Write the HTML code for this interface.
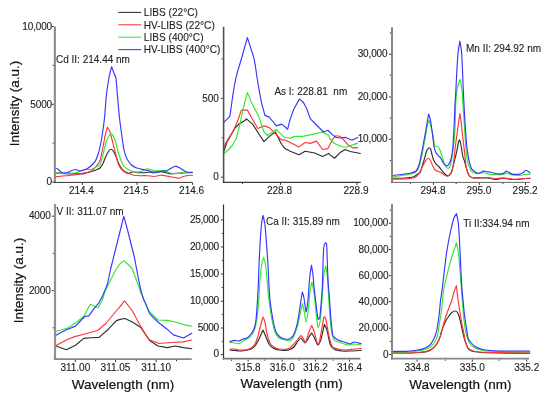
<!DOCTYPE html>
<html><head><meta charset="utf-8"><title>LIBS spectra</title>
<style>html,body{margin:0;padding:0;background:#fff;}body{width:550px;height:400px;overflow:hidden;}svg{display:block;filter:blur(0.3px);}text{font-family:"Liberation Sans",Arial,sans-serif;fill:#222;}.tl{font-size:10px;stroke:#222;stroke-width:0.12px;}.yl{letter-spacing:-0.15px;}.an{font-size:10px;stroke:#222;stroke-width:0.1px;}.lg{font-size:10.15px;stroke:#222;stroke-width:0.1px;}.at{font-size:13.5px;fill:#111;stroke:#111;stroke-width:0.2px;}</style></head><body>
<svg width="550" height="400" viewBox="0 0 550 400">
<rect width="550" height="400" fill="#fff"/>
<g fill="none" stroke-width="1.15" stroke-linejoin="round" stroke-linecap="round">
<path stroke="#2e2e2e" d="M55,172.8 C55.97,172.88 62.59,173.49 64.7,173.6 C66.81,173.71 74.15,173.90 76.1,173.9 C78.05,173.90 82.57,173.87 84.2,173.6 C85.83,173.33 91.12,171.61 92.4,171.2 C93.68,170.79 96.24,169.82 97,169.5 C97.76,169.18 99.40,168.60 100,168 C100.60,167.40 102.40,164.70 103,163.5 C103.60,162.30 105.40,157.28 106,156 C106.60,154.72 108.47,151.43 109,150.75 C109.53,150.07 110.80,149.18 111.25,149.25 C111.70,149.32 113.05,150.82 113.5,151.5 C113.95,152.18 115.30,154.95 115.75,156 C116.20,157.05 117.55,160.95 118,162 C118.45,163.05 119.65,165.60 120.25,166.5 C120.85,167.40 123.17,170.32 124,171 C124.83,171.68 127.60,173.18 128.5,173.25 C129.40,173.32 132.08,171.81 133,171.75 C133.92,171.69 136.68,172.60 137.7,172.7 C138.72,172.79 142.11,172.74 143.2,172.7 C144.29,172.66 147.51,172.37 148.6,172.3 C149.69,172.23 152.87,172.07 154.1,172 C155.33,171.93 159.67,171.53 160.9,171.6 C162.13,171.67 165.44,172.48 166.4,172.7 C167.36,172.92 169.41,173.73 170.5,173.8 C171.59,173.87 175.94,173.51 177.3,173.4 C178.66,173.29 182.60,172.79 184.1,172.7 C185.60,172.61 191.48,172.52 192.3,172.5"/>
<path stroke="#ff3535" d="M55,176.8 C56.62,176.64 68.60,175.52 71.2,175.2 C73.80,174.88 79.05,174.00 81,173.6 C82.95,173.20 89.24,171.85 90.7,171.2 C92.16,170.55 94.67,168.17 95.6,167.1 C96.53,166.03 99.26,162.51 100,160.5 C100.74,158.49 102.47,149.55 103,147 C103.53,144.45 104.80,136.98 105.25,135 C105.70,133.02 107.50,127.20 107.5,127.2 C107.50,127.20 109.30,130.02 109.75,131.25 C110.20,132.48 111.55,137.78 112,139.5 C112.45,141.22 113.80,146.70 114.25,148.5 C114.70,150.30 116.05,155.85 116.5,157.5 C116.95,159.15 118.22,163.80 118.75,165 C119.28,166.20 121.08,168.75 121.75,169.5 C122.42,170.25 124.67,172.05 125.5,172.5 C126.33,172.95 129.19,173.73 130,174 C130.81,174.27 132.55,175.03 133.6,175.2 C134.65,175.37 139.13,175.65 140.5,175.7 C141.87,175.75 145.94,175.62 147.3,175.7 C148.66,175.78 152.74,176.55 154.1,176.5 C155.46,176.45 159.81,175.28 160.9,175.2 C161.99,175.12 164.04,175.54 165,175.7 C165.96,175.86 169.55,176.62 170.5,176.8 C171.45,176.98 173.69,177.36 174.5,177.5 C175.31,177.64 177.78,178.27 178.6,178.2 C179.42,178.13 181.88,177.05 182.7,176.8 C183.52,176.55 185.84,175.86 186.8,175.7 C187.76,175.54 191.75,175.25 192.3,175.2"/>
<path stroke="#30e830" d="M55,172.8 C55.81,172.85 60.99,173.30 63.1,173.3 C65.21,173.30 73.99,173.18 76.1,172.8 C78.21,172.42 82.74,169.83 84.2,169.5 C85.66,169.17 89.56,169.74 90.7,169.5 C91.84,169.26 94.67,167.55 95.6,167.1 C96.53,166.65 99.26,166.26 100,165 C100.74,163.74 102.40,156.75 103,154.5 C103.60,152.25 105.40,144.38 106,142.5 C106.60,140.62 108.47,136.62 109,135.75 C109.53,134.88 110.80,133.73 111.25,133.8 C111.70,133.88 113.05,135.63 113.5,136.5 C113.95,137.37 115.30,141.00 115.75,142.5 C116.20,144.00 117.47,149.70 118,151.5 C118.53,153.30 120.40,159.00 121,160.5 C121.60,162.00 123.25,165.60 124,166.5 C124.75,167.40 127.60,168.97 128.5,169.5 C129.40,170.03 132.08,171.50 133,171.75 C133.92,172.00 136.68,172.10 137.7,172 C138.72,171.90 142.24,171.01 143.2,170.7 C144.16,170.39 146.21,168.90 147.3,168.9 C148.39,168.90 152.74,170.52 154.1,170.7 C155.46,170.88 159.95,170.74 160.9,170.7 C161.85,170.66 162.92,170.17 163.6,170.3 C164.28,170.43 166.88,171.69 167.7,172 C168.52,172.31 170.84,173.26 171.8,173.4 C172.76,173.54 176.07,173.47 177.3,173.4 C178.53,173.33 182.60,172.77 184.1,172.7 C185.60,172.63 191.48,172.70 192.3,172.7"/>
<path stroke="#3535ff" d="M55,167.9 C55.24,167.98 56.67,168.21 57.4,168.7 C58.13,169.19 61.24,172.44 62.3,172.8 C63.36,173.16 67.11,172.51 68,172.3 C68.89,172.09 70.39,170.98 71.2,170.7 C72.01,170.42 75.37,169.49 76.1,169.5 C76.83,169.51 77.77,170.72 78.5,170.8 C79.23,170.88 82.50,170.54 83.4,170.3 C84.30,170.06 86.69,168.88 87.5,168.4 C88.31,167.92 90.69,166.28 91.5,165.5 C92.31,164.72 94.90,161.85 95.6,160.6 C96.30,159.35 98.06,154.36 98.5,153 C98.94,151.64 99.62,148.80 100,147 C100.38,145.20 101.80,137.90 102.25,135 C102.70,132.10 104.08,122.00 104.5,118 C104.92,114.00 105.95,99.05 106.4,95 C106.85,90.95 108.48,80.33 109,77.5 C109.52,74.67 111.60,66.70 111.6,66.7 C111.60,66.70 113.86,72.83 114.3,74 C114.74,75.17 115.69,76.30 116,78.4 C116.31,80.50 117.05,91.04 117.4,95 C117.75,98.96 119.06,114.00 119.5,118 C119.94,122.00 121.30,131.80 121.75,135 C122.20,138.20 123.47,147.60 124,150 C124.53,152.40 126.25,157.50 127,159 C127.75,160.50 130.60,164.13 131.5,165 C132.40,165.87 135.15,167.32 136,167.7 C136.85,168.07 139.15,168.52 140,168.75 C140.85,168.98 143.64,169.81 144.5,170 C145.36,170.19 147.71,170.40 148.6,170.7 C149.49,171.00 152.17,172.93 153.4,173 C154.63,173.07 159.60,171.63 160.9,171.4 C162.20,171.17 165.44,170.98 166.4,170.7 C167.36,170.42 169.62,169.05 170.5,168.6 C171.38,168.15 174.25,166.26 175.2,166.2 C176.15,166.14 179.11,167.55 180,168 C180.89,168.45 183.28,170.27 184.1,170.7 C184.92,171.13 187.38,172.14 188.2,172.3 C189.02,172.46 191.89,172.30 192.3,172.3"/>
</g>
<g fill="none" stroke-width="1.15" stroke-linejoin="round" stroke-linecap="round">
<polyline stroke="#2e2e2e" points="224,151 227,142 231,135 235,128 239,124 245,120.5 246.5,118.9 252.6,124.1 258.75,133.75 264,141.6 269.25,136.4 275.4,132 281.5,144.25 285,148.6 290.25,151.25 299,154.75 305.1,151.25 314.75,153 322.6,156.5 328.75,153.4 330,154.9 334.5,158.25 340.1,152.6 345.2,149.5 350.25,151.5 360.4,153.5"/>
<polyline stroke="#ff3535" points="224,146.5 228,139 232,133 235,127 238,120 241.3,110.1 247.4,110.1 251.75,118 257.9,128.5 264,125.9 269.3,127.6 274.5,132.9 281.5,139.9 285,139.9 290.25,142.5 299,146.9 305.1,142.5 310.4,143.4 316.5,141.1 322.6,149.5 327.9,148.6 330.5,143.4 332.25,139.7 335.6,135.75 340.1,136.3 343.5,139.7 348,144.75 352.5,147.9 357.6,147.6"/>
<polyline stroke="#30e830" points="224,153.5 228,150 232,146 236,139 238.5,130 240,124 242,114 244.5,103 247.4,92.6 251.75,103.1 258.75,116.3 264,132 267.5,135.5 276.25,129.4 283.25,136.4 285,137.25 290.25,138.1 294.6,136.4 302.5,136.4 311.25,134.6 322.6,132 328.75,135.5 330,139 334.5,143.5 341.25,146.5 345.75,147.3 350.25,145.9 357.6,143.1"/>
<polyline stroke="#3535ff" points="223.75,122.4 229.9,116.3 231.6,104 232.85,95 234.25,86.25 236,77.5 237.75,70.85 239.5,65.25 242.1,56.5 244.75,46.9 247.4,37.6 253.5,56.5 255.3,65.3 257,77.5 259.1,89.8 261.4,102.3 264.9,115.4 269.3,117.1 272.8,121.5 276.3,125.9 281.5,124.1 285,126.75 287.6,129.4 290.25,118.9 293.75,109.25 299.35,99.1 303.4,102.25 306.9,109.25 310.4,118.9 316.5,125 323.5,132 327.9,130.25 332.25,134.6 335.75,137.25 340.1,138 345.75,137.4 352,140.25 357.6,137.4"/>
</g>
<g fill="none" stroke-width="1.15" stroke-linejoin="round" stroke-linecap="round">
<path stroke="#2e2e2e" d="M392,178.3 C393.73,178.26 402.20,178.17 405,178 C407.80,177.83 411.40,177.47 413,177 C414.60,176.53 416.07,175.09 417,174.5 C417.93,173.91 419.13,174.27 420,172.6 C420.87,170.93 422.63,164.81 423.5,162 C424.37,159.19 425.79,153.37 426.5,151.5 C427.21,149.63 428.25,148.32 428.8,148 C429.35,147.68 430.20,148.33 430.6,149.1 C431.00,149.87 431.41,152.39 431.8,153.8 C432.19,155.21 432.95,158.37 433.5,159.7 C434.05,161.03 435.19,162.89 435.9,163.8 C436.61,164.71 438.09,165.71 438.8,166.5 C439.51,167.29 440.49,168.81 441.2,169.7 C441.91,170.59 443.31,172.41 444.1,173.2 C444.89,173.99 446.39,175.36 447.1,175.6 C447.81,175.84 448.77,175.55 449.4,175 C450.03,174.45 451.17,173.23 451.8,171.5 C452.43,169.77 453.47,164.52 454.1,162 C454.73,159.48 455.94,155.13 456.5,152.6 C457.06,150.07 457.91,144.69 458.3,143 C458.69,141.31 459.40,139.90 459.4,139.9 C459.40,139.90 460.13,140.79 460.6,143 C461.07,145.21 462.38,154.10 462.9,156.5 C463.42,158.90 464.03,159.44 464.5,161 C464.97,162.56 465.79,166.27 466.4,168.2 C467.01,170.13 468.26,174.23 469.1,175.5 C469.94,176.77 471.55,177.38 472.7,177.7 C473.85,178.02 475.67,177.87 477.7,177.9 C479.73,177.93 485.53,177.69 487.9,177.9 C490.27,178.11 493.46,179.46 495.5,179.5 C497.54,179.54 500.81,178.20 503.2,178.2 C505.59,178.20 510.69,179.42 513.4,179.5 C516.11,179.58 521.30,178.97 523.5,178.8 C525.70,178.63 529.05,178.28 529.9,178.2"/>
<path stroke="#ff3535" d="M392,179.1 C393.73,179.09 402.20,179.15 405,179 C407.80,178.85 411.40,178.40 413,178 C414.60,177.60 416.07,176.87 417,176 C417.93,175.13 419.13,173.05 420,171.5 C420.87,169.95 422.71,165.89 423.5,164.4 C424.29,162.91 425.27,161.11 425.9,160.3 C426.53,159.49 427.65,158.38 428.2,158.3 C428.75,158.22 429.45,158.81 430,159.7 C430.55,160.59 431.72,163.67 432.35,165 C432.98,166.33 434.08,168.91 434.7,169.7 C435.32,170.49 436.29,170.58 437,170.9 C437.71,171.22 439.21,171.71 440,172.1 C440.79,172.49 442.19,173.33 442.9,173.8 C443.61,174.27 444.67,175.28 445.3,175.6 C445.93,175.92 446.97,176.36 447.6,176.2 C448.23,176.04 449.37,175.35 450,174.4 C450.63,173.45 451.80,171.22 452.35,169.1 C452.90,166.98 453.71,161.47 454.1,158.5 C454.49,155.53 454.95,149.80 455.3,146.8 C455.65,143.80 456.32,139.17 456.75,136 C457.18,132.83 458.08,125.99 458.5,123 C458.92,120.01 459.90,113.60 459.9,113.6 C459.90,113.60 460.98,120.41 461.3,123 C461.62,125.59 462.02,130.40 462.3,133 C462.58,135.60 463.11,139.97 463.4,142.5 C463.69,145.03 464.10,148.57 464.5,152 C464.90,155.43 465.79,165.07 466.4,168.2 C467.01,171.33 468.26,174.23 469.1,175.5 C469.94,176.77 471.55,177.38 472.7,177.7 C473.85,178.02 475.67,177.93 477.7,177.9 C479.73,177.87 485.69,177.38 487.9,177.5 C490.11,177.62 492.26,178.75 494.3,178.8 C496.34,178.85 500.65,177.85 503.2,177.9 C505.75,177.95 510.85,179.08 513.4,179.2 C515.95,179.32 520.43,178.93 522.3,178.8 C524.17,178.67 526.39,178.20 527.4,178.2 C528.41,178.20 529.57,178.72 529.9,178.8"/>
<path stroke="#30e830" d="M392,177 C393.73,176.73 402.47,175.40 405,175 C407.53,174.60 409.53,174.40 411,174 C412.47,173.60 414.93,172.93 416,172 C417.07,171.07 418.20,169.27 419,167 C419.80,164.73 421.20,158.73 422,155 C422.80,151.27 424.28,143.00 425,139 C425.72,135.00 426.87,127.53 427.4,125 C427.93,122.47 429.00,120.00 429,120 C429.00,120.00 430.48,125.00 431,127 C431.52,129.00 432.41,132.52 432.9,135 C433.39,137.48 433.99,144.03 434.7,145.6 C435.41,147.17 437.41,146.01 438.2,146.8 C438.99,147.59 440.05,150.09 440.6,151.5 C441.15,152.91 441.80,155.63 442.35,157.35 C442.90,159.07 444.07,162.98 444.7,164.4 C445.33,165.82 446.47,167.61 447.1,168 C447.73,168.39 448.85,168.15 449.4,167.35 C449.95,166.55 450.65,164.74 451.2,162 C451.75,159.26 453.03,150.40 453.5,146.8 C453.97,143.20 454.46,138.57 454.7,135 C454.94,131.43 455.17,124.00 455.3,120 C455.43,116.00 455.51,108.73 455.7,105 C455.89,101.27 456.43,94.67 456.75,92 C457.07,89.33 457.64,86.65 458.1,85 C458.56,83.35 460.20,79.60 460.2,79.6 C460.20,79.60 461.83,88.28 462.15,91 C462.47,93.72 462.39,96.63 462.6,100 C462.81,103.37 463.36,110.58 463.75,116.25 C464.14,121.92 465.13,137.33 465.5,142.5 C465.87,147.67 466.14,152.19 466.5,155 C466.86,157.81 467.55,161.41 468.2,163.6 C468.85,165.79 470.31,170.07 471.4,171.4 C472.49,172.73 474.77,173.43 476.4,173.6 C478.03,173.77 481.79,172.59 483.6,172.7 C485.41,172.81 488.24,174.15 490,174.4 C491.76,174.65 495.04,174.60 496.8,174.6 C498.56,174.60 501.84,174.60 503.2,174.4 C504.56,174.20 505.81,173.02 507,173.1 C508.19,173.18 510.41,174.69 512.1,175 C513.79,175.31 517.83,175.48 519.7,175.4 C521.57,175.32 524.74,174.53 526.1,174.4 C527.46,174.27 529.39,174.40 529.9,174.4"/>
<path stroke="#3535ff" d="M392,175.5 C393.73,175.30 402.47,174.33 405,174 C407.53,173.67 409.53,173.40 411,173 C412.47,172.60 414.93,172.07 416,171 C417.07,169.93 418.20,167.67 419,165 C419.80,162.33 421.20,155.00 422,151 C422.80,147.00 424.28,139.00 425,135 C425.72,131.00 426.92,123.80 427.4,121 C427.88,118.20 428.60,114.00 428.6,114 C428.60,114.00 430.10,118.47 430.6,121 C431.10,123.53 431.88,129.56 432.35,133 C432.82,136.44 433.63,144.19 434.1,146.8 C434.57,149.41 435.35,151.43 435.9,152.6 C436.45,153.77 437.57,154.89 438.2,155.6 C438.83,156.31 439.89,156.89 440.6,157.9 C441.31,158.91 442.71,162.15 443.5,163.2 C444.29,164.25 445.79,165.64 446.5,165.8 C447.21,165.96 448.17,165.37 448.8,164.4 C449.43,163.43 450.65,160.85 451.2,158.5 C451.75,156.15 452.51,151.27 452.9,146.8 C453.29,142.33 453.82,130.57 454.1,125 C454.38,119.43 454.76,109.67 455,105 C455.24,100.33 455.65,94.67 455.9,90 C456.15,85.33 456.61,75.00 456.9,70 C457.19,65.00 457.70,56.35 458.1,52.5 C458.50,48.65 459.90,41.10 459.9,41.1 C459.90,41.10 461.25,48.65 461.6,52.5 C461.95,56.35 462.29,65.27 462.5,70 C462.71,74.73 462.92,81.83 463.2,88 C463.48,94.17 464.17,108.98 464.6,116.25 C465.03,123.52 466.00,137.73 466.4,142.5 C466.80,147.27 467.24,149.55 467.6,152 C467.96,154.45 468.54,158.62 469.1,160.9 C469.66,163.18 470.83,167.53 471.8,169.1 C472.77,170.67 475.43,172.15 476.4,172.7 C477.37,173.25 478.14,173.41 479.1,173.2 C480.06,172.99 482.51,171.29 483.6,171.1 C484.69,170.91 486.45,171.68 487.3,171.8 C488.15,171.92 489.07,171.80 490,172 C490.93,172.20 493.05,173.02 494.3,173.3 C495.55,173.58 498.21,174.10 499.4,174.1 C500.59,174.10 502.19,173.69 503.2,173.3 C504.21,172.91 505.81,171.09 507,171.2 C508.19,171.31 510.41,173.71 512.1,174.1 C513.79,174.49 518.18,174.31 519.7,174.1 C521.22,173.89 522.65,173.01 523.5,172.5 C524.35,171.99 525.25,170.26 526.1,170.3 C526.95,170.34 529.39,172.47 529.9,172.8"/>
</g>
<g fill="none" stroke-width="1.15" stroke-linejoin="round" stroke-linecap="round">
<polyline stroke="#2e2e2e" points="56,346 66.3,349.7 75.5,345.2 83.7,338.4 90.9,337.8 99.1,337.4 108.3,329.2 116.5,320.6 120,319.4 125.1,318.5 132.3,322 140.5,327.15 149.7,340.5 157.9,346 167.15,347.65 175.35,346 183.55,347.65 191.75,348.7"/>
<polyline stroke="#ff3535" points="56,345.6 67.3,339.45 75.5,336.4 85.75,333.7 98,330.2 106.25,323 116.5,310.75 120,306.65 124.5,300.9 132.3,310.75 140.5,326.1 148.7,339.45 159,343.55 171.25,342.5 183.55,341.9 191.75,340"/>
<polyline stroke="#30e830" points="56,331.25 67.3,328.2 75.5,323 83.7,316.5 90.3,304.2 98,307.7 102.2,300.5 105.1,291 108.5,284.25 111.9,277.5 115.25,270.75 119.75,264 123.8,260.6 127.6,264 132.1,268.5 135.5,277.5 138.9,286.5 140.5,292.3 142.25,295.5 144,300 148.7,310.75 157.9,320 167.15,320.4 175.35,322 185.6,325.1 191.75,326.1"/>
<polyline stroke="#3535ff" points="56,335.35 65.25,330.2 75.5,326.1 84.7,316.5 88.8,315.9 94,308.7 99.1,302.55 102.5,296 105.1,290 107.4,284.25 110.75,268.5 115.25,250.5 119.75,232.5 123.8,216.3 127.6,230.25 131,243.75 134.4,257.25 137.75,275.25 140,286.5 141.5,292.3 143.4,299 145.6,303.6 149.7,313.8 157.9,322 167.15,329.2 173.3,334.9 183.55,338 191.75,333.3"/>
</g>
<g fill="none" stroke-width="1.15" stroke-linejoin="round" stroke-linecap="round">
<path stroke="#2e2e2e" d="M230,350 C230.50,350.04 234.10,350.30 235,350.4 C235.90,350.50 238.00,351.00 239,351 C240.00,351.00 243.80,350.60 245,350.4 C246.20,350.20 250.00,349.44 251,349 C252.00,348.56 254.20,347.00 255,346 C255.80,345.00 258.20,340.60 259,339 C259.80,337.40 263.00,330.00 263,330 C263.00,330.00 265.40,335.60 266,337 C266.60,338.40 268.30,342.90 269,344 C269.70,345.10 272.00,347.40 273,348 C274.00,348.60 277.80,349.76 279,350 C280.20,350.24 283.90,350.45 285,350.4 C286.10,350.35 289.10,349.84 290,349.5 C290.90,349.16 293.20,347.85 294,347 C294.80,346.15 297.30,341.90 298,341 C298.70,340.10 300.30,337.80 301,338 C301.70,338.20 304.20,343.10 305,343 C305.80,342.90 308.34,338.00 309,337 C309.66,336.00 311.60,333.00 311.6,333 C311.60,333.00 313.36,335.80 314,337 C314.64,338.20 317.30,344.80 318,345 C318.70,345.20 320.36,341.06 321,339 C321.64,336.94 324.40,324.40 324.4,324.4 C324.40,324.40 326.44,328.04 327,330 C327.56,331.96 329.30,342.10 330,344 C330.70,345.90 332.80,348.30 334,349 C335.20,349.70 340.40,350.80 342,351 C343.60,351.20 348.10,351.06 350,351 C351.90,350.94 359.90,350.46 361,350.4"/>
<path stroke="#ff3535" d="M230,349 C230.50,349.00 234.10,348.90 235,349 C235.90,349.10 238.00,349.90 239,350 C240.00,350.10 243.80,350.20 245,350 C246.20,349.80 250.00,348.60 251,348 C252.00,347.40 254.30,345.20 255,344 C255.70,342.80 257.40,338.00 258,336 C258.60,334.00 260.50,325.90 261,324 C261.50,322.10 263.00,317.00 263,317 C263.00,317.00 264.60,320.30 265,322 C265.40,323.70 266.50,331.90 267,334 C267.50,336.10 269.30,341.70 270,343 C270.70,344.30 273.10,346.40 274,347 C274.90,347.60 277.90,348.76 279,349 C280.10,349.24 283.90,349.50 285,349.4 C286.10,349.30 289.10,348.54 290,348 C290.90,347.46 293.20,344.90 294,344 C294.80,343.10 297.30,339.84 298,339 C298.70,338.16 300.50,335.70 301,335.6 C301.50,335.50 302.54,337.36 303,338 C303.46,338.64 305.00,342.60 305.6,342 C306.20,341.40 308.40,333.64 309,332 C309.60,330.36 311.60,325.60 311.6,325.6 C311.60,325.60 313.46,329.36 314,331 C314.54,332.64 316.50,340.74 317,342 C317.50,343.26 318.54,344.80 319,343.6 C319.46,342.40 321.10,332.66 321.6,330 C322.10,327.34 323.56,318.00 324,317 C324.44,316.00 325.50,318.10 326,320 C326.50,321.90 328.40,333.40 329,336 C329.60,338.60 331.10,344.70 332,346 C332.90,347.30 336.60,348.60 338,349 C339.40,349.40 344.40,350.00 346,350 C347.60,350.00 352.50,349.16 354,349 C355.50,348.84 360.30,348.46 361,348.4"/>
<path stroke="#30e830" d="M230,342.4 C230.50,342.46 234.10,342.88 235,343 C235.90,343.12 238.20,343.80 239,343.6 C239.80,343.40 242.20,341.46 243,341 C243.80,340.54 246.20,339.50 247,339 C247.80,338.50 250.20,337.10 251,336 C251.80,334.90 254.40,329.80 255,328 C255.60,326.20 256.62,320.80 257,318 C257.38,315.20 258.54,303.30 258.8,300 C259.06,296.70 259.32,288.50 259.6,285 C259.88,281.50 261.20,267.76 261.6,265 C262.00,262.24 263.60,257.40 263.6,257.4 C263.60,257.40 265.23,262.44 265.6,265 C265.97,267.56 266.96,279.50 267.3,283 C267.64,286.50 268.53,296.30 269,300 C269.47,303.70 271.40,316.80 272,320 C272.60,323.20 274.30,330.20 275,332 C275.70,333.80 278.00,337.20 279,338 C280.00,338.80 283.85,339.72 285,340 C286.15,340.28 289.60,341.20 290.5,340.8 C291.40,340.40 293.25,337.68 294,336 C294.75,334.32 297.30,326.60 298,324 C298.70,321.40 300.56,312.04 301,310 C301.44,307.96 302.40,303.60 302.4,303.6 C302.40,303.60 304.04,310.16 304.4,312 C304.76,313.84 305.64,322.00 306,322 C306.36,322.00 307.60,315.00 308,312 C308.40,309.00 309.62,295.00 310,292 C310.38,289.00 311.80,282.00 311.8,282 C311.80,282.00 313.58,289.00 314,292 C314.42,295.00 315.60,308.50 316,312 C316.40,315.50 317.60,326.00 318,327 C318.40,328.00 319.60,324.70 320,322 C320.40,319.30 321.70,303.70 322,300 C322.30,296.30 322.80,287.70 323,285 C323.20,282.30 323.73,274.88 324,273 C324.27,271.12 325.75,266.25 325.75,266.25 C325.75,266.25 326.77,271.12 327,273 C327.23,274.88 327.80,281.90 328,285 C328.20,288.10 328.70,299.70 329,304 C329.30,308.30 330.50,324.40 331,328 C331.50,331.60 333.10,338.56 334,340 C334.90,341.44 338.60,341.90 340,342.4 C341.40,342.90 346.60,344.84 348,345 C349.40,345.16 352.70,344.00 354,344 C355.30,344.00 360.30,344.90 361,345"/>
<path stroke="#3535ff" d="M230,341.6 C230.50,341.48 234.10,340.46 235,340.4 C235.90,340.34 238.20,341.14 239,341 C239.80,340.86 242.20,339.30 243,339 C243.80,338.70 246.20,338.50 247,338 C247.80,337.50 250.30,334.90 251,334 C251.70,333.10 253.50,330.40 254,329 C254.50,327.60 255.65,322.90 256,320 C256.35,317.10 257.27,303.50 257.5,300 C257.73,296.50 258.15,288.50 258.3,285 C258.45,281.50 258.83,269.00 259,265 C259.17,261.00 259.76,249.00 260,245 C260.24,241.00 261.10,227.96 261.4,225 C261.70,222.04 263.00,215.40 263,215.4 C263.00,215.40 264.64,222.04 265,225 C265.36,227.96 266.30,241.00 266.6,245 C266.90,249.00 267.78,261.30 268,265 C268.22,268.70 268.60,278.50 268.8,282 C269.00,285.50 269.58,296.20 270,300 C270.42,303.80 272.40,316.80 273,320 C273.60,323.20 275.30,330.30 276,332 C276.70,333.70 279.10,336.30 280,337 C280.90,337.70 284.00,338.82 285,339 C286.00,339.18 289.10,339.30 290,338.8 C290.90,338.30 293.20,335.88 294,334 C294.80,332.12 297.30,323.40 298,320 C298.70,316.60 300.56,302.80 301,300 C301.44,297.20 302.40,292.00 302.4,292 C302.40,292.00 303.64,296.00 304,298 C304.36,300.00 305.60,311.80 306,312 C306.40,312.20 307.70,302.60 308,300 C308.30,297.40 308.80,288.50 309,286 C309.20,283.50 309.75,277.08 310,275 C310.25,272.92 311.50,265.20 311.5,265.2 C311.50,265.20 312.75,272.82 313,275 C313.25,277.18 313.70,284.10 314,287 C314.30,289.90 315.60,300.80 316,304 C316.40,307.20 317.60,317.80 318,319 C318.40,320.20 319.60,318.70 320,316 C320.40,313.30 321.76,295.10 322,292 C322.24,288.90 322.30,287.70 322.4,285 C322.50,282.30 322.88,268.60 323,265 C323.12,261.40 323.40,251.20 323.6,249 C323.80,246.80 324.71,243.53 325,243 C325.29,242.47 326.31,243.15 326.5,243.75 C326.69,244.35 326.81,246.88 326.9,249 C326.99,251.12 327.27,261.60 327.4,265 C327.53,268.40 327.98,279.50 328.2,283 C328.42,286.50 329.32,296.30 329.6,300 C329.88,303.70 330.66,316.40 331,320 C331.34,323.60 332.30,334.00 333,336 C333.70,338.00 336.90,339.40 338,340 C339.10,340.60 342.80,341.60 344,342 C345.20,342.40 349.00,344.00 350,344 C351.00,344.00 352.90,342.04 354,342 C355.10,341.96 360.30,343.44 361,343.6"/>
</g>
<g fill="none" stroke-width="1.15" stroke-linejoin="round" stroke-linecap="round">
<path stroke="#2e2e2e" d="M392,352.7 C394.43,352.74 406.56,353.03 410.2,353 C413.84,352.97 417.13,352.69 419.3,352.5 C421.47,352.31 424.93,351.97 426.5,351.6 C428.07,351.23 430.01,350.37 431.1,349.7 C432.19,349.03 433.85,347.51 434.7,346.6 C435.55,345.69 436.77,344.23 437.5,342.9 C438.23,341.57 439.67,338.12 440.2,336.6 C440.73,335.08 440.86,333.38 441.5,331.5 C442.14,329.62 444.03,324.53 445,322.5 C445.97,320.47 447.83,317.58 448.75,316.25 C449.67,314.92 451.07,313.20 451.9,312.5 C452.73,311.80 454.25,311.00 455,311 C455.75,311.00 456.91,311.63 457.5,312.5 C458.09,313.37 458.90,315.83 459.4,317.5 C459.90,319.17 460.76,322.83 461.25,325 C461.74,327.17 462.63,331.75 463.1,333.75 C463.57,335.75 464.30,338.50 464.75,340 C465.20,341.50 465.93,343.73 466.5,345 C467.07,346.27 467.87,348.60 469,349.5 C470.13,350.40 472.20,351.31 475,351.75 C477.80,352.19 482.70,352.60 490,352.8 C497.30,353.00 524.45,353.19 529.75,353.25"/>
<path stroke="#ff3535" d="M392,353.2 C394.43,353.16 406.56,353.02 410.2,352.9 C413.84,352.78 417.13,352.50 419.3,352.3 C421.47,352.10 424.93,351.77 426.5,351.4 C428.07,351.03 430.01,350.17 431.1,349.5 C432.19,348.83 433.85,347.31 434.7,346.4 C435.55,345.49 436.77,344.03 437.5,342.7 C438.23,341.37 439.67,337.85 440.2,336.4 C440.73,334.95 440.94,333.82 441.5,331.8 C442.06,329.78 443.52,324.16 444.4,321.25 C445.28,318.34 447.10,312.83 448.1,310 C449.10,307.17 451.11,302.40 451.9,300 C452.69,297.60 453.40,293.92 454,292 C454.60,290.08 456.40,285.60 456.4,285.6 C456.40,285.60 457.62,296.41 458.1,300 C458.58,303.59 459.49,309.33 460,312.5 C460.51,315.67 461.40,321.08 461.9,323.75 C462.40,326.42 463.34,330.33 463.75,332.5 C464.16,334.67 464.43,337.93 465,340 C465.57,342.07 466.87,346.53 468,348 C469.13,349.47 471.57,350.44 473.5,351 C475.43,351.56 475.00,351.96 482.5,352.2 C490.00,352.44 523.45,352.72 529.75,352.8"/>
<path stroke="#30e830" d="M392,351.8 C394.43,351.80 406.56,351.95 410.2,351.8 C413.84,351.65 417.25,351.06 419.3,350.7 C421.35,350.34 424.03,349.67 425.6,349.1 C427.17,348.53 429.89,347.32 431.1,346.4 C432.31,345.48 433.85,343.65 434.7,342.2 C435.55,340.75 436.87,337.96 437.5,335.5 C438.13,333.04 438.90,326.82 439.4,323.75 C439.90,320.68 440.82,315.67 441.25,312.5 C441.68,309.33 442.29,303.00 442.6,300 C442.91,297.00 443.16,292.76 443.6,290 C444.04,287.24 445.14,282.53 445.9,279.3 C446.66,276.07 448.41,269.11 449.3,265.8 C450.19,262.49 451.64,257.57 452.6,254.5 C453.56,251.43 456.50,242.80 456.5,242.8 C456.50,242.80 458.19,250.21 458.7,254.5 C459.21,258.79 459.93,270.27 460.3,275 C460.67,279.73 461.24,286.67 461.5,290 C461.76,293.33 461.95,296.27 462.25,300 C462.55,303.73 463.25,313.60 463.75,318 C464.25,322.40 465.20,329.60 466,333 C466.80,336.40 468.55,341.50 469.75,343.5 C470.95,345.50 473.30,347.07 475,348 C476.70,348.93 480.50,350.06 482.5,350.5 C484.50,350.94 483.70,351.13 490,351.3 C496.30,351.47 524.45,351.69 529.75,351.75"/>
<path stroke="#3535ff" d="M392,351.4 C393.81,351.40 402.57,351.52 405.6,351.4 C408.63,351.28 412.51,350.81 414.7,350.5 C416.89,350.19 420.29,349.59 422,349.1 C423.71,348.61 426.29,347.53 427.5,346.8 C428.71,346.07 430.26,344.63 431.1,343.6 C431.94,342.57 433.20,340.31 433.8,339.1 C434.40,337.89 435.17,335.85 435.6,334.5 C436.03,333.15 436.67,330.60 437,329 C437.33,327.40 437.78,324.70 438.1,322.5 C438.42,320.30 439.07,315.50 439.4,312.5 C439.73,309.50 440.21,303.27 440.6,300 C440.99,296.73 441.77,292.20 442.3,288 C442.83,283.80 443.97,273.57 444.6,268.5 C445.23,263.43 446.23,254.87 447,250 C447.77,245.13 449.49,236.20 450.4,232 C451.31,227.80 452.99,220.95 453.8,218.5 C454.61,216.05 456.50,213.60 456.5,213.6 C456.50,213.60 457.91,219.64 458.3,223 C458.69,226.36 459.11,233.69 459.4,238.8 C459.69,243.91 460.21,255.30 460.5,261.3 C460.79,267.30 461.27,278.64 461.6,283.8 C461.93,288.96 462.61,295.84 463,300 C463.39,304.16 464.00,311.00 464.5,315 C465.00,319.00 466.28,326.93 466.75,330 C467.22,333.07 467.50,336.40 468,338 C468.50,339.60 469.57,340.87 470.5,342 C471.43,343.13 473.40,345.50 475,346.5 C476.60,347.50 480.50,348.97 482.5,349.5 C484.50,350.03 487.00,350.30 490,350.5 C493.00,350.70 499.70,350.93 505,351 C510.30,351.07 526.45,351.00 529.75,351"/>
</g>
<path fill="none" stroke="#8a8a8a" stroke-width="2.1" d="M54.85,26.5 V182.9"/>
<path fill="none" stroke="#333" stroke-width="1.0" d="M53.8,182.4 H192.6"/>
<path fill="none" stroke="#333" stroke-width="1" d="M53.8,182h-2M53.8,104.3h-2M53.8,26.5h-2M53.8,143.1h-1.2M53.8,65.4h-1.2M82.4,182.9v2M137,182.9v2M192.6,182.9v2"/>
<text class="tl yl" x="52" y="185.20" text-anchor="end">0</text>
<text class="tl yl" x="52" y="107.50" text-anchor="end">5000</text>
<text class="tl yl" x="52" y="29.70" text-anchor="end">10,000</text>
<text class="tl" x="81.4" y="194.4" text-anchor="middle">214.4</text>
<text class="tl" x="136" y="194.4" text-anchor="middle">214.5</text>
<text class="tl" x="191.6" y="194.4" text-anchor="middle">214.6</text>
<path fill="none" stroke="#505050" stroke-width="1.6" d="M223.6,26.75 V182.9"/>
<path fill="none" stroke="#3a3a3a" stroke-width="1.2" d="M222.8,182.3 H360.8"/>
<path fill="none" stroke="#333" stroke-width="1" d="M222.8,177.2h-2M222.8,98.3h-2M222.8,137.75h-1.2M222.8,58.85h-1.2M280.5,182.9v2M357,182.9v2M242.6,182.9v1.2"/>
<text class="tl yl" x="218.6" y="180.40" text-anchor="end">0</text>
<text class="tl yl" x="218.6" y="101.50" text-anchor="end">500</text>
<text class="tl" x="279.5" y="194.3" text-anchor="middle">228.8</text>
<text class="tl" x="356" y="194.3" text-anchor="middle">228.9</text>
<path fill="none" stroke="#858585" stroke-width="2.0" d="M392,27.2 V182.85"/>
<path fill="none" stroke="#555" stroke-width="0.9" d="M391,182.4 H530"/>
<path fill="none" stroke="#333" stroke-width="1" d="M391,139.25h-2M391,97h-2M391,54.2h-2M391,160.6h-1.2M391,118h-1.2M391,75.1h-1.2M391,33h-1.2M433.4,182.85v2M479.3,182.85v2M525.5,182.85v2M410.4,182.85v1.2M456.2,182.85v1.2M502.9,182.85v1.2"/>
<text class="tl yl" x="387.4" y="142.45" text-anchor="end">10,000</text>
<text class="tl yl" x="387.4" y="100.20" text-anchor="end">20,000</text>
<text class="tl yl" x="387.4" y="57.40" text-anchor="end">30,000</text>
<text class="tl" x="433" y="194.4" text-anchor="middle">294.8</text>
<text class="tl" x="478.9" y="194.4" text-anchor="middle">295.0</text>
<text class="tl" x="525.1" y="194.4" text-anchor="middle">295.2</text>
<path fill="none" stroke="#909090" stroke-width="2.2" d="M55,204 V360"/>
<path fill="none" stroke="#888" stroke-width="1.8" d="M53.9,359.1 H191.8"/>
<path fill="none" stroke="#333" stroke-width="1" d="M53.9,290.6h-2M53.9,216.2h-2M53.9,327.8h-1.2M53.9,253.4h-1.2M75.3,360v2M115.5,360v2M156.2,360v2M95.6,360v1.2M136.3,360v1.2M176.5,360v1.2"/>
<text class="tl yl" x="50.6" y="293.80" text-anchor="end">2000</text>
<text class="tl yl" x="50.6" y="219.40" text-anchor="end">4000</text>
<text class="tl" x="75.3" y="371.1" text-anchor="middle">311.00</text>
<text class="tl" x="115.5" y="371.1" text-anchor="middle">311.05</text>
<text class="tl" x="156.2" y="371.1" text-anchor="middle">311.10</text>
<path fill="none" stroke="#333" stroke-width="1.2" d="M223.5,204.5 V359.6"/>
<path fill="none" stroke="#777" stroke-width="1.8" d="M222.9,358.7 H360.4"/>
<path fill="none" stroke="#333" stroke-width="1" d="M222.9,354.6h-2M222.9,328h-2M222.9,301.25h-2M222.9,274h-2M222.9,247h-2M222.9,220h-2M222.9,341.3h-1.2M222.9,314.6h-1.2M222.9,287.6h-1.2M222.9,260.5h-1.2M222.9,233.5h-1.2M248.1,359.6v2M282.2,359.6v2M315.4,359.6v2M349.5,359.6v2M231.5,359.6v1.2M265,359.6v1.2M299,359.6v1.2M333.2,359.6v1.2"/>
<text class="tl yl" style="font-size:10.1px;letter-spacing:-0.35px" x="218.8" y="357.24" text-anchor="end">0</text>
<text class="tl yl" style="font-size:10.1px;letter-spacing:-0.35px" x="218.8" y="330.64" text-anchor="end">5000</text>
<text class="tl yl" style="font-size:10.1px;letter-spacing:-0.35px" x="218.8" y="303.89" text-anchor="end">10,000</text>
<text class="tl yl" style="font-size:10.1px;letter-spacing:-0.35px" x="218.8" y="276.64" text-anchor="end">15,000</text>
<text class="tl yl" style="font-size:10.1px;letter-spacing:-0.35px" x="218.8" y="249.64" text-anchor="end">20,000</text>
<text class="tl yl" style="font-size:10.1px;letter-spacing:-0.35px" x="218.8" y="222.64" text-anchor="end">25,000</text>
<text class="tl" x="248.1" y="370.7" text-anchor="middle">315.8</text>
<text class="tl" x="282.2" y="370.7" text-anchor="middle">316.0</text>
<text class="tl" x="315.4" y="370.7" text-anchor="middle">316.2</text>
<text class="tl" x="349.5" y="370.7" text-anchor="middle">316.4</text>
<path fill="none" stroke="#888" stroke-width="2.0" d="M392,203.75 V359.6"/>
<path fill="none" stroke="#888" stroke-width="1.8" d="M391,358.7 H529"/>
<path fill="none" stroke="#333" stroke-width="1" d="M391,354.5h-2M391,328.25h-2M391,301.75h-2M391,275.75h-2M391,249.5h-2M391,223.25h-2M391,341.4h-1.2M391,315h-1.2M391,288.75h-1.2M391,262.6h-1.2M391,236.4h-1.2M391,210.1h-1.2M417,359.6v2M472.3,359.6v2M526.7,359.6v2M445.3,359.6v1.2M499.1,359.6v1.2"/>
<text class="tl yl" x="388.3" y="357.70" text-anchor="end">0</text>
<text class="tl yl" x="388.3" y="331.45" text-anchor="end">20,000</text>
<text class="tl yl" x="388.3" y="304.95" text-anchor="end">40,000</text>
<text class="tl yl" x="388.3" y="278.95" text-anchor="end">60,000</text>
<text class="tl yl" x="388.3" y="252.70" text-anchor="end">80,000</text>
<text class="tl yl" x="388.3" y="226.45" text-anchor="end">100,000</text>
<text class="tl" x="417" y="370.7" text-anchor="middle">334.8</text>
<text class="tl" x="472.3" y="370.7" text-anchor="middle">335.0</text>
<text class="tl" x="526.7" y="370.7" text-anchor="middle">335.2</text>
<text class="an" x="56" y="63">Cd II: 214.44 nm</text>
<text class="an" x="274.4" y="95">As I: 228.81  nm</text>
<text class="an" x="466" y="52.4">Mn II: 294.92 nm</text>
<text class="an" x="56.6" y="215">V II: 311.07 nm</text>
<text class="an" x="266" y="225.4">Ca II: 315.89 nm</text>
<text class="an" x="463.2" y="227.3">Ti II:334.94 nm</text>
<text class="at" transform="translate(18.6,103.6) rotate(-90)" text-anchor="middle">Intensity (a.u.)</text>
<text class="at" transform="translate(22.6,280.4) rotate(-90)" text-anchor="middle">Intensity (a.u.)</text>
<text class="at" x="123.0" y="388.6" text-anchor="middle">Wavelength (nm)</text>
<text class="at" x="291.7" y="387.7" text-anchor="middle">Wavelength (nm)</text>
<text class="at" x="460.3" y="388.6" text-anchor="middle">Wavelength (nm)</text>
<line x1="118.3" y1="12.4" x2="141.2" y2="12.4" stroke="#2e2e2e" stroke-width="1.05"/>
<text class="lg" x="143.8" y="16.2">LIBS (22°C)</text>
<line x1="118.3" y1="24.8" x2="141.2" y2="24.8" stroke="#ff3535" stroke-width="1.05"/>
<text class="lg" x="143.8" y="28.6">HV-LIBS (22°C)</text>
<line x1="118.3" y1="37.2" x2="141.2" y2="37.2" stroke="#30e830" stroke-width="1.05"/>
<text class="lg" x="143.8" y="41.0">LIBS (400°C)</text>
<line x1="118.3" y1="49.6" x2="141.2" y2="49.6" stroke="#3535ff" stroke-width="1.05"/>
<text class="lg" x="143.8" y="53.4">HV-LIBS (400°C)</text>
</svg></body></html>
